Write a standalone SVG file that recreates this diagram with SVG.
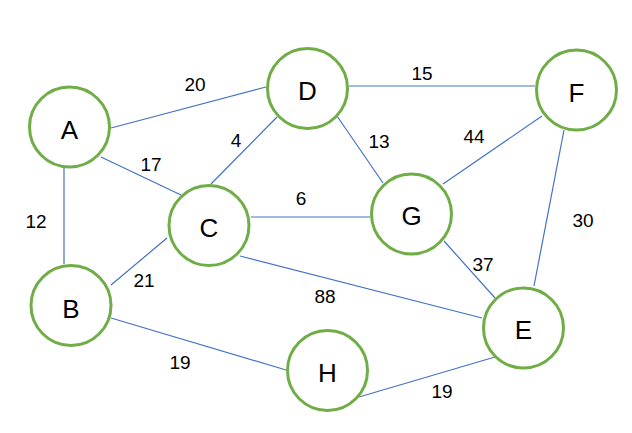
<svg xmlns="http://www.w3.org/2000/svg" width="632" height="433" viewBox="0 0 632 433">
<style>
.edge{stroke:#4472C4;stroke-width:1.2;fill:none}
.node circle{fill:#FFFFFF;stroke:#70AD47;stroke-width:3}
.node text{font-family:"Liberation Sans",Arial,sans-serif;font-size:26px;fill:#000000;text-anchor:middle}
.lbl{font-family:"Liberation Sans",Arial,sans-serif;font-size:19px;fill:#000000;text-anchor:middle}
</style>
<rect width="632" height="433" fill="#FFFFFF"/>
<g id="connectors">
<line class="edge" x1="111" y1="128" x2="266" y2="87"/>
<line class="edge" x1="101" y1="157" x2="181" y2="195"/>
<line class="edge" x1="64" y1="168" x2="64" y2="264"/>
<line class="edge" x1="277" y1="117" x2="211" y2="184"/>
<line class="edge" x1="349" y1="86" x2="535" y2="86"/>
<line class="edge" x1="337" y1="116" x2="383" y2="183"/>
<line class="edge" x1="251" y1="217" x2="370" y2="217"/>
<line class="edge" x1="167" y1="238" x2="111" y2="285"/>
<line class="edge" x1="240" y1="256" x2="482" y2="318"/>
<line class="edge" x1="443" y1="184" x2="542" y2="116"/>
<line class="edge" x1="444" y1="241" x2="495" y2="298"/>
<line class="edge" x1="564" y1="130" x2="534" y2="286"/>
<line class="edge" x1="111" y1="318" x2="286" y2="370"/>
<line class="edge" x1="359" y1="397" x2="495" y2="357"/>
</g>
<g id="edge-labels">
<text class="lbl" x="195" y="91">20</text>
<text class="lbl" x="422" y="80">15</text>
<text class="lbl" x="236" y="147">4</text>
<text class="lbl" x="379" y="148">13</text>
<text class="lbl" x="474" y="143">44</text>
<text class="lbl" x="151" y="171">17</text>
<text class="lbl" x="301" y="205">6</text>
<text class="lbl" x="36" y="228">12</text>
<text class="lbl" x="583" y="227">30</text>
<text class="lbl" x="144" y="287">21</text>
<text class="lbl" x="483" y="271">37</text>
<text class="lbl" x="325" y="303">88</text>
<text class="lbl" x="180" y="369">19</text>
<text class="lbl" x="442" y="398">19</text>
</g>
<g id="node-A" class="node"><circle cx="69.5" cy="127" r="40"/><text x="69.5" y="138.5">A</text></g>
<g id="node-D" class="node"><circle cx="307.5" cy="88.5" r="40"/><text x="307.5" y="100">D</text></g>
<g id="node-F" class="node"><circle cx="576.5" cy="90" r="40"/><text x="576.5" y="101.5">F</text></g>
<g id="node-C" class="node"><circle cx="209" cy="225.5" r="40"/><text x="209" y="236.5">C</text></g>
<g id="node-G" class="node"><circle cx="411.5" cy="214" r="40"/><text x="411.5" y="225">G</text></g>
<g id="node-B" class="node"><circle cx="71" cy="305.5" r="40"/><text x="71" y="317.5">B</text></g>
<g id="node-E" class="node"><circle cx="523.5" cy="328" r="40"/><text x="523.5" y="339">E</text></g>
<g id="node-H" class="node"><circle cx="327.5" cy="370.5" r="40"/><text x="327.5" y="382">H</text></g>
</svg>
